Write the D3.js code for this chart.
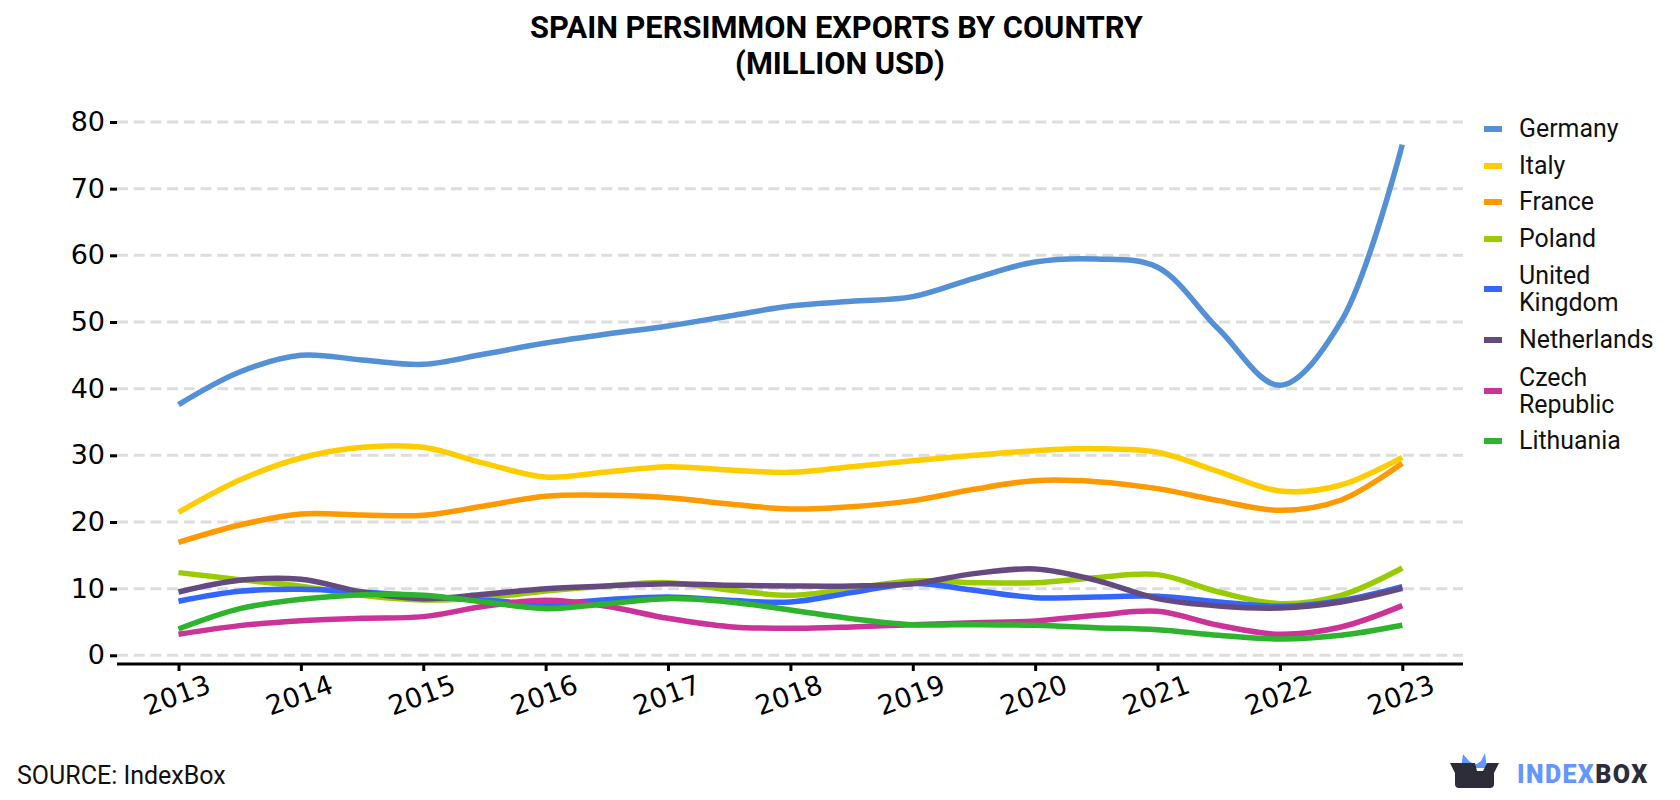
<!DOCTYPE html>
<html>
<head>
<meta charset="utf-8">
<script src="https://cdn.jsdelivr.net/npm/d3@7/dist/d3.min.js"></script>
<style>
html,body{margin:0;padding:0;background:#fff;}
svg{display:block;}
</style>
</head>
<body>
<svg id="chart" width="1680" height="800"></svg>
<script>
// Spain persimmon exports by destination, million USD, at half-year steps
const years = [2013,2014,2015,2016,2017,2018,2019,2020,2021,2022,2023];
const periods = [2013,2013.5,2014,2014.5,2015,2015.5,2016,2016.5,2017,2017.5,2018,2018.5,2019,2019.5,2020,2020.5,2021,2021.5,2022,2022.5,2023];
const yTicks = [0,10,20,30,40,50,60,70,80];
const germany = [37.6,42.5,45,44.3,43.65,45.2,46.85,48.2,49.4,50.9,52.4,53.1,53.8,56.55,59,59.45,58.2,48.9,40.5,50.1,76.6];
const italy = [21.45,26.3,29.6,31.2,31.2,28.8,26.75,27.5,28.3,27.8,27.45,28.3,29.2,30,30.7,31,30.45,27.55,24.65,25.55,29.7];
const france = [16.95,19.55,21.2,21.05,21,22.4,23.85,24,23.65,22.7,21.95,22.3,23.2,24.9,26.2,26.05,25,23.2,21.75,23.3,28.8];
const poland = [12.4,11.35,10.35,9,8.3,8.65,9.65,10.4,10.9,9.8,9,10,11.15,10.9,10.9,11.65,12.1,9.5,7.75,9,13.1];
const uk = [8.1,9.6,9.9,9.5,8.85,8.25,7.75,8.35,8.75,8.25,8,9.4,10.75,9.75,8.65,8.75,8.85,8,7.35,8.2,10.3];
const netherlands = [9.5,11.25,11.4,9.5,8.5,9.15,10,10.4,10.75,10.5,10.4,10.4,10.75,12.25,12.95,11.25,8.5,7.4,7.1,8,10.05];
const czech = [3.15,4.45,5.2,5.55,5.8,7.35,8.25,7.35,5.55,4.3,4.05,4.25,4.6,4.9,5.15,6,6.6,4.5,3.15,4.25,7.45];
const lithuania = [3.95,7,8.4,9.1,9,8,7,7.75,8.5,8,6.8,5.5,4.6,4.6,4.5,4.15,3.85,3,2.45,3,4.5];

const seriesNames = [["Germany"],["Italy"],["France"],["Poland"],["United","Kingdom"],["Netherlands"],["Czech","Republic"],["Lithuania"]];
const seriesValues = [germany,italy,france,poland,uk,netherlands,czech,lithuania];
const seriesColors = ["#5490d6","#ffcc00","#ff9900","#99cc00","#3366ff","#654a82","#cc3399","#2db32d"];
const legendY = [129,166,202,239,289,340,391,441];

const svg = d3.select("#chart");
const x = d3.scaleLinear().domain([2013,2023]).range([178.5,1402.3]);
const y = d3.scaleLinear().domain([0,80]).range([655.3,122]);

// Title
const title = svg.append("g").attr("font-family","Roboto").attr("font-weight",700)
  .attr("font-size",30.8).attr("text-anchor","middle").attr("fill","#000");
title.append("text").attr("x",836.5).attr("y",38).text("SPAIN PERSIMMON EXPORTS BY COUNTRY");
title.append("text").attr("x",840).attr("y",74).text("(MILLION USD)");

// Horizontal dashed grid
svg.append("g").selectAll("line").data(yTicks).join("line")
  .attr("x1",117).attr("x2",1463)
  .attr("y1",d=>y(d)).attr("y2",d=>y(d))
  .attr("stroke","#dddddd").attr("stroke-width",3).attr("stroke-dasharray","11 5.7");

// Axes
const yAxis = svg.append("g").attr("transform","translate(117,0)")
  .call(d3.axisLeft(y).tickValues(yTicks).tickSize(7).tickPadding(5));
yAxis.select(".domain").remove();
yAxis.selectAll("line").attr("stroke","#000").attr("stroke-width",3);
yAxis.selectAll("text").attr("font-family","DejaVu Sans").attr("font-size",27).attr("fill","#000");

const xAxis = svg.append("g").attr("transform","translate(0,664)")
  .call(d3.axisBottom(x).tickValues(years).tickFormat(d3.format("d")).tickSize(7).tickSizeOuter(0));
xAxis.select(".domain").attr("d","M117,0H1463").attr("stroke","#000").attr("stroke-width",3);
xAxis.selectAll("line").attr("stroke","#000").attr("stroke-width",3);
xAxis.selectAll("text").attr("font-family","DejaVu Sans").attr("font-size",27).attr("fill","#000")
  .attr("text-anchor","middle").attr("transform","translate(-2,31) rotate(-20)").attr("y",0).attr("dy","0.35em");

// Series lines
const line = d3.line().x((d,i)=>x(periods[i])).y(d=>y(d)).curve(d3.curveCatmullRom.alpha(0.5));
svg.append("g").selectAll("path").data(seriesValues).join("path")
  .attr("d",line).attr("fill","none")
  .attr("stroke",(d,i)=>seriesColors[i]).attr("stroke-width",5.5);

// Legend
const legend = svg.append("g").selectAll("g").data(seriesNames).join("g")
  .attr("transform",(d,i)=>`translate(1484,${legendY[i]})`);
legend.append("rect").attr("x",0).attr("y",-3).attr("width",18).attr("height",6)
  .attr("fill",(d,i)=>seriesColors[i]);
legend.each(function(lines){
  const t = d3.select(this).append("text").attr("font-family","Roboto").attr("font-size",24.9).attr("fill","#111");
  lines.forEach((s,k)=>{
    t.append("tspan").attr("x",35).attr("y",8+(k-(lines.length-1)/2)*27).text(s);
  });
});

// Source line
svg.append("text").attr("x",17).attr("y",784).attr("font-family","Roboto").attr("font-size",25).attr("fill","#111").text("SOURCE: IndexBox");

// Brand mark
const logo = svg.append("g");
logo.append("path").attr("d","M1461,768L1463,754L1469,761L1475,765L1481,761L1485,753L1487,768Z").attr("fill","#6496ff");
logo.append("path").attr("d","M1450,763H1475L1477,771L1483,771L1487,763H1499L1494,773V784Q1494,788 1490,788H1459Q1455,788 1455,784V773Z").attr("fill","#2c2d38");
const brand = svg.append("text").attr("x",1517).attr("y",783).attr("font-family","Roboto").attr("font-weight",900)
  .attr("font-size",25).attr("letter-spacing",1.4);
brand.append("tspan").attr("fill","#6496ff").text("INDEX");
brand.append("tspan").attr("fill","#2c2d38").text("BOX");
</script>
</body>
</html>
